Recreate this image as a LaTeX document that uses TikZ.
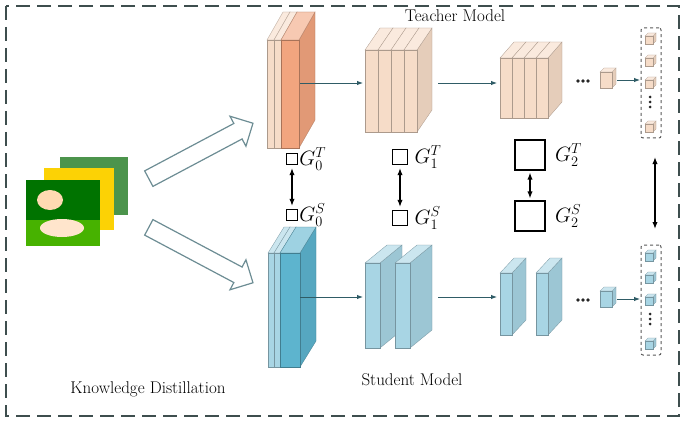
\documentclass[tikz,border=0pt]{standalone}
\usetikzlibrary{shapes.arrows,arrows.meta}
\definecolor{tl}{HTML}{F6DCC8}
\definecolor{td}{HTML}{F2A57F}
\definecolor{sl}{HTML}{A8D5E4}
\definecolor{sd}{HTML}{5DB4CE}
\definecolor{ar}{HTML}{2F5C66}
\definecolor{fr}{HTML}{3E4E4E}
\newcommand\myslab[7]{%
 \filldraw[draw=#7!70!black,line width=0.3pt,fill=#7!93!black] (#1+#3,#2)--(#1+#3+#5,#2+#6)--(#1+#3+#5,#2+#4+#6)--(#1+#3,#2+#4)--cycle;
 \filldraw[draw=#7!70!black,line width=0.3pt,fill=#7!60!white] (#1,#2)--(#1+#5,#2+#6)--(#1+#3+#5,#2+#6)--(#1+#3,#2)--cycle;
 \filldraw[draw=#7!70!black,line width=0.3pt,fill=#7] (#1,#2) rectangle (#1+#3,#2+#4);}
\tikzset{flow/.style={ar,line width=0.9pt,-{Latex[length=6pt]}},
 dbl/.style={black,line width=1.2pt,{Latex[length=7pt]}-{Latex[length=7pt]}},
 gbox/.style={draw,line width=1.1pt,inner sep=0pt},
 lbl/.style={font=\fontsize{20}{22}\selectfont\itshape},
 ttl/.style={font=\fontsize{17}{19}\selectfont},
 dot/.style={circle,fill=black!85,inner sep=0pt,minimum size=3.6pt},
 outcol/.style={draw=gray!70!black,dashed,line width=1pt,rounded corners=2pt},
 hollow/.style={single arrow,draw=ar!70,line width=1.2pt,fill=white,minimum height=118pt,minimum width=34pt,inner sep=7pt}}
\begin{document}
\begin{tikzpicture}[x=1pt,y=-1pt]
\useasboundingbox (0,0) rectangle (685,425);
\draw[fr,line width=1.6pt,dash pattern=on 14pt off 7pt] (6,6) rectangle (679,416);
% texts
\node[ttl] (tm) at (455,16) {Teacher Model};
\node[ttl] (sm) at (412,380) {Student Model};
\node[ttl] (kd) at (148,389) {Knowledge Distillation};
% images
\fill[green!40!black!70] (60,157) rectangle (128,215);
\fill[yellow!70!orange] (44,168) rectangle (114,230);
\fill[green!45!black] (26,180) rectangle (100,246);
\fill[green!60!yellow!70!black] (26,220) rectangle (100,246);
\fill[orange!30!white] (50,200) ellipse (13pt and 10pt);
\fill[orange!20!white] (62,228) ellipse (22pt and 9pt);
% hollow arrows
\node[hollow,rotate=28] (ha1) at (197,153) {};
\node[hollow,rotate=-28] (ha2) at (197,253) {};
% teacher
\myslab{267}{40}{7}{108}{16}{-28}{tl}
\myslab{274}{40}{7}{108}{16}{-28}{tl}
\myslab{281}{40}{18}{108}{16}{-28}{td}
\foreach \i in {0,1,2,3}{\myslab{365+13*\i}{50}{13}{82}{15}{-22}{tl}}
\foreach \i in {0,1,2,3}{\myslab{500+12*\i}{58}{12}{60}{14}{-16}{tl}}
\myslab{600}{72}{12}{16}{4}{-4}{tl}
\foreach \i in {0,1,2}{\node[dot] (dt\i) at (578+5*\i,81) {};}
% student
\myslab{268}{253}{6}{114}{16}{-26}{sl}
\myslab{274}{253}{6}{114}{16}{-26}{sl}
\myslab{280}{253}{20}{114}{16}{-26}{sd}
\foreach \i in {0,1}{\myslab{365+30*\i}{263}{15}{85}{22}{-18}{sl}}
\foreach \i in {0,1}{\myslab{500+36*\i}{273}{12}{62}{14}{-15}{sl}}
\myslab{600}{291}{12}{16}{4}{-4}{sl}
\foreach \i in {0,1,2}{\node[dot] (ds\i) at (578+5*\i,300) {};}
% flow arrows
\coordinate (t1) at (300,83); \coordinate (t2) at (363,83);
\coordinate (t3) at (438,83); \coordinate (t4) at (497,83);
\coordinate (t5) at (617,80); \coordinate (t6) at (640,80);
\draw[flow] (t1)--(t2); \draw[flow] (t3)--(t4); \draw[flow] (t5)--(t6);
\coordinate (s1) at (300,297); \coordinate (s2) at (363,297);
\coordinate (s3) at (438,297); \coordinate (s4) at (497,297);
\coordinate (s5) at (617,299); \coordinate (s6) at (640,299);
\draw[flow] (s1)--(s2); \draw[flow] (s3)--(s4); \draw[flow] (s5)--(s6);
% output columns
\node[outcol,minimum width=20pt,minimum height=110pt] (oc1) at (651,83) {};
\node[outcol,minimum width=20pt,minimum height=110pt] (oc2) at (651,300) {};
\foreach \y in {36,58,80,124}{\myslab{645}{\y}{8}{8}{3}{-3}{tl}}
\foreach \y in {253,275,297,341}{\myslab{645}{\y}{8}{8}{3}{-3}{sl}}
\foreach \i in {0,1,2}{\node[dot,minimum size=3pt] (vt\i) at (650,97+5*\i) {};}
\foreach \i in {0,1,2}{\node[dot,minimum size=3pt] (vs\i) at (650,314+5*\i) {};}
% G boxes
\node[gbox,minimum size=11pt] (gt0) at (292,159) {};
\node[lbl,anchor=west,inner sep=1pt] at (gt0.east) {$G_0^T$};
\node[gbox,minimum size=11pt] (gs0) at (292,215) {};
\node[lbl,anchor=west,inner sep=1pt] at (gs0.east) {$G_0^S$};
\node[gbox,minimum size=15pt] (gt1) at (400,157) {};
\node[lbl,anchor=west,xshift=3pt] at (gt1.east) {$G_1^T$};
\node[gbox,minimum size=15pt] (gs1) at (400,218) {};
\node[lbl,anchor=west,xshift=3pt] at (gs1.east) {$G_1^S$};
\node[gbox,minimum size=30pt] (gt2) at (530,155) {};
\node[lbl,anchor=west,xshift=6pt] at (gt2.east) {$G_2^T$};
\node[gbox,minimum size=30pt] (gs2) at (530,216) {};
\node[lbl,anchor=west,xshift=6pt] at (gs2.east) {$G_2^S$};
\draw[dbl] ([yshift=-3pt]gt0.south)--([yshift=3pt]gs0.north);
\draw[dbl] ([yshift=-3pt]gt1.south)--([yshift=3pt]gs1.north);
\draw[dbl] ([yshift=-2pt]gt2.south)--([yshift=2pt]gs2.north);
\coordinate (r1) at (655,157); \coordinate (r2) at (655,229);
\draw[dbl] (r1)--(r2);
\end{tikzpicture}
\end{document}
